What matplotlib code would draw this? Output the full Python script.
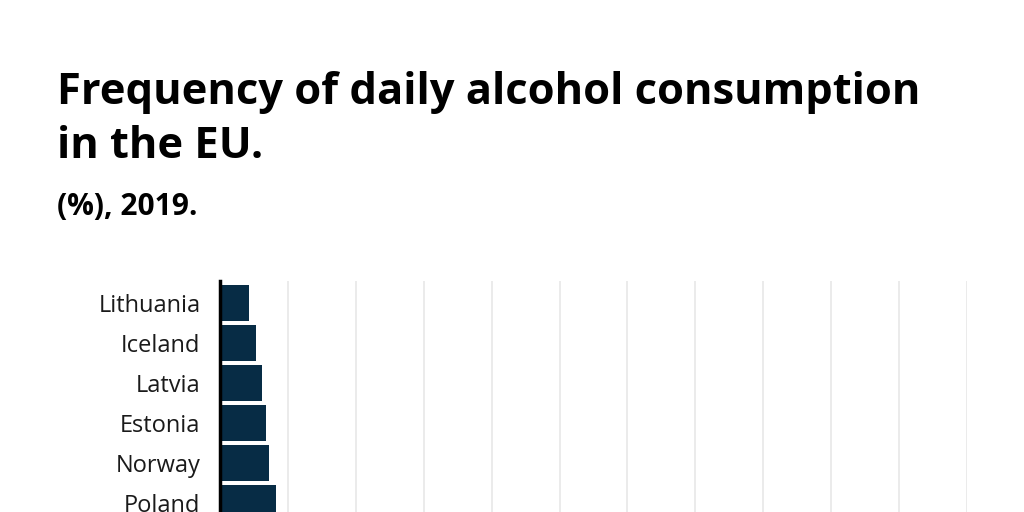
import matplotlib
matplotlib.use("Agg")
import matplotlib.pyplot as plt

countries = ["Lithuania", "Iceland", "Latvia", "Estonia", "Norway", "Poland"]
values = [0.85, 1.05, 1.25, 1.35, 1.45, 1.65]
x_ticks = [0, 2, 4, 6, 8, 10, 12, 14, 16, 18, 20, 22]

plt.rcParams['font.family'] = ['Open Sans', 'DejaVu Sans']

fig = plt.figure(figsize=(10.24, 5.12), dpi=100)
fig.patch.set_facecolor('white')

fig.text(57/1024, 1 - 158/512, "Frequency of daily alcohol consumption\nin the EU.",
         fontsize=31.3, fontweight='bold', color='black', ha='left', va='baseline',
         linespacing=1.33)
fig.text(57/1024, 1 - 215/512, "(%), 2019.", fontsize=21.5, fontweight='bold',
         color='black', ha='left', va='baseline')

ax = fig.add_axes([220/1024, 1 - 543/512, 747/1024, 262/512])
ypos = list(range(len(countries)))
ax.barh(ypos, values, height=0.9, color='#072c45', zorder=3)
ax.set_xlim(0, 22)
ax.set_ylim(6.0, -0.55)
ax.set_xticks(x_ticks)
ax.set_xticklabels([])
ax.xaxis.grid(True, color='#e8e8e8', linewidth=1.2, zorder=0)
ax.set_yticks(ypos)
ax.set_yticklabels(countries, fontsize=17, color='#1a1a1a')
ax.tick_params(axis='y', length=0, pad=14)
ax.tick_params(axis='x', length=0)
for s in ['top', 'right', 'bottom']:
    ax.spines[s].set_visible(False)
ax.spines['left'].set_linewidth(2.5)
ax.spines['left'].set_color('black')
ax.spines['left'].set_zorder(5)

fig.savefig("out.png", dpi=100, facecolor='white')
